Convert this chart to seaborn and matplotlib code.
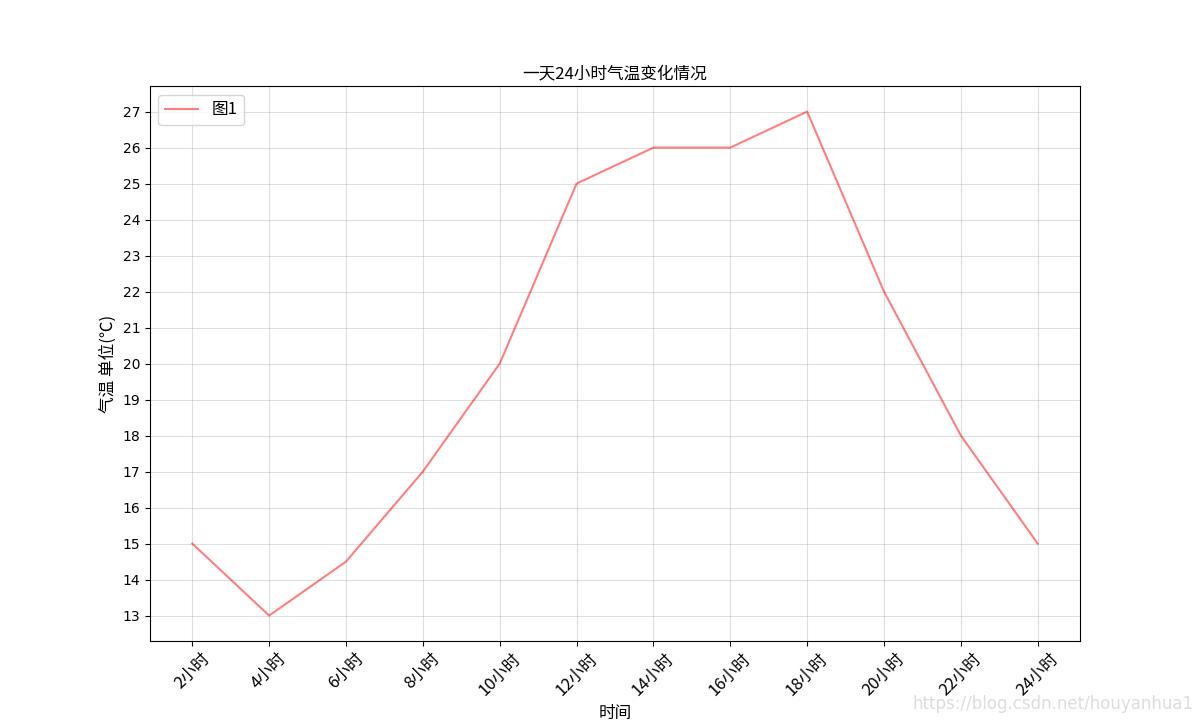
import matplotlib
matplotlib.use("Agg")
import matplotlib.pyplot as plt
import seaborn as sns
import pandas as pd

# 数据
hours = [2, 4, 6, 8, 10, 12, 14, 16, 18, 20, 22, 24]
temps = [15, 13, 14.5, 17, 20, 25, 26, 26, 27, 22, 18, 15]
x_labels = [f"{h}小时" for h in hours]
y_ticks = list(range(13, 28))

CJK = ["Noto Sans CJK SC", "DejaVu Sans"]

df = pd.DataFrame({"hour": hours, "temp": temps})

fig, ax = plt.subplots(figsize=(12, 7.2), dpi=100)

sns.lineplot(data=df, x="hour", y="temp", ax=ax, color="r", alpha=0.5,
             label="图1", linewidth=1.5)

ax.set_xticks(hours)
ax.set_xticklabels(x_labels, rotation=45, fontsize=12, family=CJK)
ax.set_yticks(y_ticks)
ax.tick_params(axis="y", labelsize=10)

ax.set_xlabel("时间", fontsize=12, family=CJK)
ax.set_ylabel("气温 单位(℃)", fontsize=12, family=CJK)
ax.set_title("一天24小时气温变化情况", fontsize=12, family=CJK)

ax.grid(alpha=0.4)
ax.legend(loc="upper left", prop={"family": CJK, "size": 12})

fig.text(0.995, 0.01, "https://blog.csdn.net/houyanhua1", ha="right", va="bottom",
         fontsize=12, color="#dddddd")

fig.savefig("out.png", dpi=100)
